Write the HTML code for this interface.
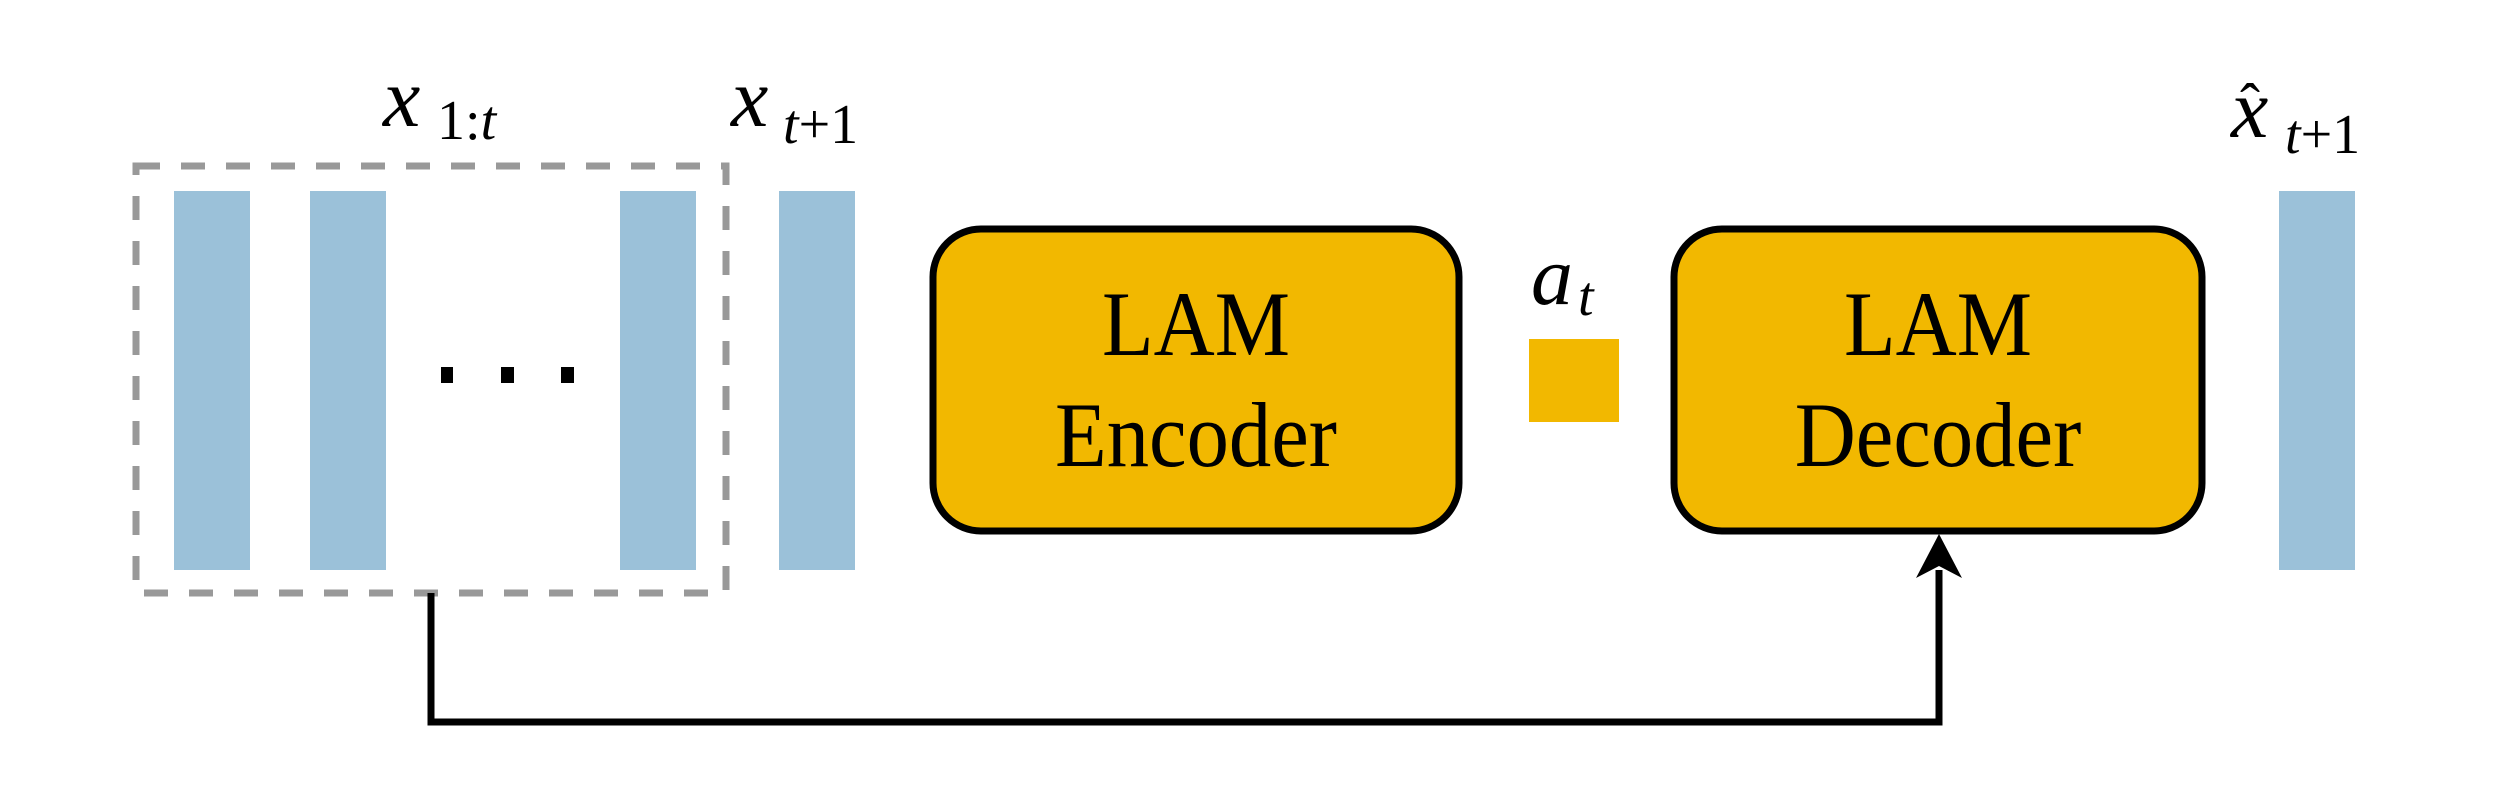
<!DOCTYPE html>
<html><head><meta charset="utf-8"><style>html,body{margin:0;padding:0;background:#fff}svg{display:block}</style></head>
<body>
<svg width="2520" height="808" viewBox="0 0 2520 808" xmlns="http://www.w3.org/2000/svg">
<rect width="2520" height="808" fill="#fff"/>
<g fill="#9bc1d9">
<rect x="174" y="191" width="76" height="379"/>
<rect x="310" y="191" width="76" height="379"/>
<rect x="620" y="191" width="76" height="379"/>
<rect x="779" y="191" width="76" height="379"/>
<rect x="2279" y="191" width="76" height="379"/>
</g>
<rect x="136" y="166" width="590" height="427" fill="none" stroke="#999" stroke-width="7" stroke-dasharray="24 21"/>
<g fill="#000">
<rect x="441" y="367" width="12" height="16"/>
<rect x="501" y="367" width="13" height="16"/>
<rect x="561" y="367" width="13" height="16"/>
</g>
<rect x="933" y="229" width="526" height="302" rx="48" fill="#f2b800" stroke="#000" stroke-width="7"/>
<rect x="1674" y="229" width="528" height="302" rx="48" fill="#f2b800" stroke="#000" stroke-width="7"/>
<rect x="1529" y="339" width="90" height="83" fill="#f2b800"/>
<g font-family="Liberation Serif, serif" font-size="92" text-anchor="middle" fill="#000">
<text x="1196" y="355" transform="translate(1196 0) scale(0.92 1) translate(-1196 0)">LAM</text>
<text x="1196" y="466" transform="translate(1196 0) scale(0.92 1) translate(-1196 0)">Encoder</text>
<text x="1938" y="355" transform="translate(1938 0) scale(0.92 1) translate(-1938 0)">LAM</text>
<text x="1938" y="466" transform="translate(1938 0) scale(0.92 1) translate(-1938 0)">Decoder</text>
</g>
<g font-family="Liberation Serif, serif" fill="#000">
<text x="383" y="126" font-size="84" font-style="italic">x</text>
<text x="437" y="139" font-size="56">1:<tspan font-style="italic">t</tspan></text>
<text x="731" y="126" font-size="84" font-style="italic">x</text>
<text x="783" y="143" font-size="56"><tspan font-style="italic">t</tspan>+1</text>
<text x="1531" y="304" font-size="84" font-style="italic">a</text>
<text x="1578" y="315" font-size="56" font-style="italic">t</text>
<text x="2231" y="137" font-size="84" font-style="italic">x</text>
<text x="2240" y="125" font-size="60">ˆ</text>
<text x="2285" y="153" font-size="56"><tspan font-style="italic">t</tspan>+1</text>
</g>
<polyline points="431,593 431,722 1939,722 1939,570" fill="none" stroke="#000" stroke-width="7"/>
<polygon points="1939,534 1916,578 1939,566 1962,578" fill="#000"/>
</svg>
</body></html>
